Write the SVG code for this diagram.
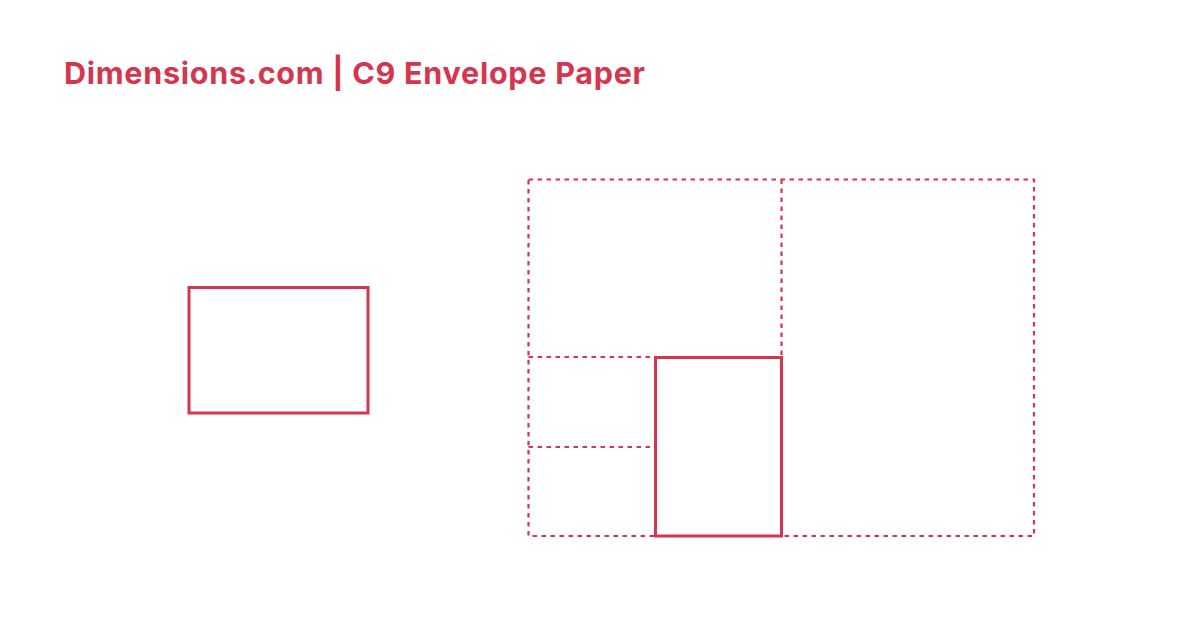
<svg xmlns="http://www.w3.org/2000/svg" width="1200" height="630" viewBox="0 0 1200 630">
<style>
.title{font-family:Inter,"Liberation Sans",sans-serif;font-weight:700;font-size:30.5px;fill:#D4364F}
.solid{fill:none;stroke:#D4364F;stroke-width:3}
.dash{fill:none;stroke:#D4364F;stroke-width:2.2;stroke-dasharray:4.5 4.5}
</style>
<rect width="1200" height="630" fill="#FFFFFF"/>
<text class="title" x="64" y="84" textLength="581" lengthAdjust="spacing">Dimensions.com | C9 Envelope Paper</text>
<g id="connectors">
<rect class="dash" x="528.5" y="179.5" width="505.5" height="356.5"/>
<line class="dash" x1="781.5" y1="179.5" x2="781.5" y2="357"/>
<line class="dash" x1="528.5" y1="357" x2="655" y2="357"/>
<line class="dash" x1="528.5" y1="447" x2="655" y2="447"/>
</g>
<g id="envelope-small">
<rect class="solid" x="189" y="287.5" width="179" height="125.5"/>
</g>
<g id="envelope-placed">
<rect class="solid" x="655.5" y="357.5" width="126" height="178.5"/>
</g>
</svg>
